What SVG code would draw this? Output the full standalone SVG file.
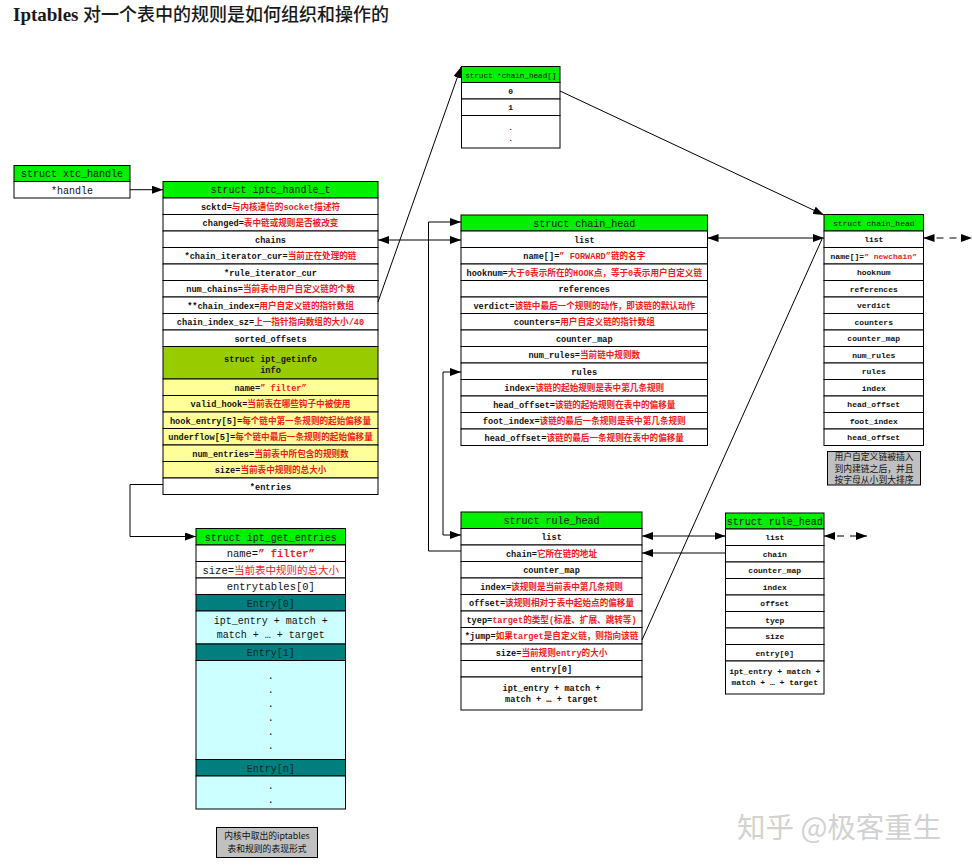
<svg xmlns="http://www.w3.org/2000/svg" width="972" height="868" viewBox="0 0 972 868">
<style>
.b{fill:#fff;stroke:#000;stroke-width:1}
.g{fill:#00f000;stroke:#000;stroke-width:1}
.o{fill:#99cc00;stroke:#000;stroke-width:1}
.y{fill:#ffff99;stroke:#000;stroke-width:1}
.t{fill:#007f7f;stroke:#000;stroke-width:1}
.c{fill:#ccffff;stroke:#000;stroke-width:1}
.gr{fill:#c0c0c0;stroke:#000;stroke-width:1}
text{font-family:"Liberation Mono","Noto Sans CJK SC",monospace;text-anchor:middle;fill:#111}
.r{font-size:8.6px;font-weight:bold}
.s{font-size:8px;font-weight:bold}
.hd{font-size:10px}
.e{font-size:10.5px}
.rd{fill:#ee1c1c;font-weight:bold}
.en{font-size:10px;fill:#082828}
.lb{font-family:"Noto Sans CJK SC",sans-serif;font-size:8.8px}
</style>
<defs>
<marker id="ah" viewBox="0 0 11 8" refX="11" refY="4" markerWidth="11" markerHeight="8" markerUnits="userSpaceOnUse" orient="auto-start-reverse"><path d="M0,0L11,4L0,8z" fill="#000"/></marker>
</defs>
<rect x="0" y="0" width="972" height="868" fill="#fff"/>
<text x="13" y="20.5" style="text-anchor:start;font-family:'Liberation Serif','Noto Sans CJK SC',serif;font-size:19px;font-weight:bold;fill:#1a1a1a">Iptables<tspan x="83" style="font-family:'Noto Sans CJK SC',sans-serif;font-size:18px;font-weight:500">对一个表中的规则是如何组织和操作的</tspan></text>

<g id="xtc_handle">
<rect class="g" x="14" y="165.5" width="116" height="16"/>
<text class="hd" x="72" y="177">struct xtc_handle</text>
<rect class="b" x="14" y="181.5" width="116" height="16.5"/>
<text class="hd" x="72" y="193.5">*handle</text>
</g>

<g id="iptc_handle_t">
<rect class="g" x="163" y="181.5" width="215" height="16.5"/>
<text class="hd" x="270.5" y="193.3">struct iptc_handle_t</text>
<rect class="b" x="163" y="198" width="215" height="16.5"/>
<text class="r" x="270.5" y="209.6">scktd=<tspan class="rd">与内核通信的socket描述符</tspan></text>
<rect class="b" x="163" y="214.5" width="215" height="16.5"/>
<text class="r" x="270.5" y="226.1">changed=<tspan class="rd">表中链或规则是否被改变</tspan></text>
<rect class="b" x="163" y="231" width="215" height="16.5"/>
<text class="r" x="270.5" y="242.6">chains</text>
<rect class="b" x="163" y="247.5" width="215" height="16.5"/>
<text class="r" x="270.5" y="259.1">*chain_iterator_cur=<tspan class="rd">当前正在处理的链</tspan></text>
<rect class="b" x="163" y="264" width="215" height="16.5"/>
<text class="r" x="270.5" y="275.6">*rule_iterator_cur</text>
<rect class="b" x="163" y="280.5" width="215" height="16.5"/>
<text class="r" x="270.5" y="292.1">num_chains=<tspan class="rd">当前表中用户自定义链的个数</tspan></text>
<rect class="b" x="163" y="297" width="215" height="16.5"/>
<text class="r" x="270.5" y="308.6">**chain_index=<tspan class="rd">用户自定义链的指针数组</tspan></text>
<rect class="b" x="163" y="313.5" width="215" height="16.5"/>
<text class="r" x="270.5" y="325.1">chain_index_sz=<tspan class="rd">上一指针指向数组的大小/40</tspan></text>
<rect class="b" x="163" y="330" width="215" height="16.5"/>
<text class="r" x="270.5" y="341.6">sorted_offsets</text>
<rect class="o" x="163" y="346.5" width="215" height="32.5"/>
<text class="r" x="270.5" y="361.5">struct ipt_getinfo</text>
<text class="r" x="270.5" y="373">info</text>
<rect class="y" x="163" y="379" width="215" height="16.5"/>
<text class="r" x="270.5" y="390.6">name=<tspan class="rd">” filter”</tspan></text>
<rect class="y" x="163" y="395.5" width="215" height="16.5"/>
<text class="r" x="270.5" y="407.1">valid_hook=<tspan class="rd">当前表在哪些钩子中被使用</tspan></text>
<rect class="y" x="163" y="412" width="215" height="16.5"/>
<text class="r" x="270.5" y="423.6">hook_entry[5]=<tspan class="rd">每个链中第一条规则的起始偏移量</tspan></text>
<rect class="y" x="163" y="428.5" width="215" height="16.5"/>
<text class="r" x="270.5" y="440.1">underflow[5]=<tspan class="rd">每个链中最后一条规则的起始偏移量</tspan></text>
<rect class="y" x="163" y="445" width="215" height="16.5"/>
<text class="r" x="270.5" y="456.6">num_entries=<tspan class="rd">当前表中所包含的规则数</tspan></text>
<rect class="y" x="163" y="461.5" width="215" height="16.5"/>
<text class="r" x="270.5" y="473.1">size=<tspan class="rd">当前表中规则的总大小</tspan></text>
<rect class="b" x="163" y="478" width="215" height="16.5"/>
<text class="r" x="270.5" y="489.6">*entries</text>
</g>

<g id="ipt_get_entries">
<rect class="g" x="196" y="528.5" width="149.5" height="16.5"/>
<text class="hd" x="270.75" y="540.5">struct ipt_get_entries</text>
<rect class="b" x="196" y="545" width="149.5" height="16.5"/>
<text class="e" x="270.75" y="557.2">name=<tspan class="rd">” filter”</tspan></text>
<rect class="b" x="196" y="561.5" width="149.5" height="16.5"/>
<text class="e" x="270.75" y="573.7">size=<tspan class="rd" style="font-weight:normal">当前表中规则的总大小</tspan></text>
<rect class="b" x="196" y="578" width="149.5" height="16.5"/>
<text class="e" x="270.75" y="590.2">entrytables[0]</text>
<rect class="t" x="196" y="594.5" width="149.5" height="16.5"/>
<text class="en" x="270.75" y="606.5">Entry[0]</text>
<rect class="c" x="196" y="611" width="149.5" height="33"/>
<text class="hd" x="270.75" y="623.5">ipt_entry + match +</text>
<text class="hd" x="270.75" y="637.8">match + … + target</text>
<rect class="t" x="196" y="644" width="149.5" height="16.5"/>
<text class="en" x="270.75" y="656">Entry[1]</text>
<rect class="c" x="196" y="660.5" width="149.5" height="99"/>
<text class="hd" x="270.75" y="679">.</text>
<text class="hd" x="270.75" y="693">.</text>
<text class="hd" x="270.75" y="707">.</text>
<text class="hd" x="270.75" y="721">.</text>
<text class="hd" x="270.75" y="735">.</text>
<text class="hd" x="270.75" y="749">.</text>
<rect class="t" x="196" y="759.5" width="149.5" height="16.5"/>
<text class="en" x="270.75" y="771.5">Entry[n]</text>
<rect class="c" x="196" y="776" width="149.5" height="33"/>
<text class="hd" x="270.75" y="789">.</text>
<text class="hd" x="270.75" y="803">.</text>
</g>

<g id="label_iptables">
<rect class="gr" x="216.5" y="827.5" width="101" height="30"/>
<text class="lb" x="267" y="839">内核中取出的iptables</text>
<text class="lb" x="267" y="851.5">表和规则的表现形式</text>
</g>

<g id="chain_head_array">
<rect class="g" x="461.5" y="66.5" width="98.5" height="16"/>
<text x="510.75" y="77.5" style="font-size:7.6px">struct *chain_head[]</text>
<rect class="b" x="461.5" y="82.5" width="98.5" height="16.5"/>
<text class="s" x="510.75" y="93.8">0</text>
<rect class="b" x="461.5" y="99" width="98.5" height="16.5"/>
<text class="s" x="510.75" y="110.3">1</text>
<rect class="b" x="461.5" y="115.5" width="98.5" height="32.5"/>
<text class="s" x="510.75" y="130">.</text>
<text class="s" x="510.75" y="141">.</text>
</g>

<g id="chain_head">
<rect class="g" x="461" y="215" width="246.5" height="16"/>
<text class="hd" x="584.25" y="227">struct chain_head</text>
<rect class="b" x="461" y="231" width="246.5" height="16.5"/>
<text class="r" x="584.25" y="242.6">list</text>
<rect class="b" x="461" y="247.5" width="246.5" height="16.5"/>
<text class="r" x="584.25" y="259.1">name[]=<tspan class="rd">” FORWARD”链的名字</tspan></text>
<rect class="b" x="461" y="264" width="246.5" height="16.5"/>
<text class="r" x="584.25" y="275.6">hooknum=<tspan class="rd">大于0表示所在的HOOK点，等于0表示用户自定义链</tspan></text>
<rect class="b" x="461" y="280.5" width="246.5" height="16.5"/>
<text class="r" x="584.25" y="292.1">references</text>
<rect class="b" x="461" y="297" width="246.5" height="16.5"/>
<text class="r" x="584.25" y="308.6">verdict=<tspan class="rd">该链中最后一个规则的动作，即该链的默认动作</tspan></text>
<rect class="b" x="461" y="313.5" width="246.5" height="16.5"/>
<text class="r" x="584.25" y="325.1">counters=<tspan class="rd">用户自定义链的指针数组</tspan></text>
<rect class="b" x="461" y="330" width="246.5" height="16.5"/>
<text class="r" x="584.25" y="341.6">counter_map</text>
<rect class="b" x="461" y="346.5" width="246.5" height="16.5"/>
<text class="r" x="584.25" y="358.1">num_rules=<tspan class="rd">当前链中规则数</tspan></text>
<rect class="b" x="461" y="363" width="246.5" height="16.5"/>
<text class="r" x="584.25" y="374.6">rules</text>
<rect class="b" x="461" y="379.5" width="246.5" height="16.5"/>
<text class="r" x="584.25" y="391.1">index=<tspan class="rd">该链的起始规则是表中第几条规则</tspan></text>
<rect class="b" x="461" y="396" width="246.5" height="16.5"/>
<text class="r" x="584.25" y="407.6">head_offset=<tspan class="rd">该链的起始规则在表中的偏移量</tspan></text>
<rect class="b" x="461" y="412.5" width="246.5" height="16.5"/>
<text class="r" x="584.25" y="424.1">foot_index=<tspan class="rd">该链的最后一条规则是表中第几条规则</tspan></text>
<rect class="b" x="461" y="429" width="246.5" height="16.5"/>
<text class="r" x="584.25" y="440.6">head_offset=<tspan class="rd">该链的最后一条规则在表中的偏移量</tspan></text>
</g>

<g id="chain_head_newchain">
<rect class="g" x="824" y="214.5" width="99.5" height="16.5"/>
<text x="873.75" y="225.8" style="font-size:8px">struct chain_head</text>
<rect class="b" x="824" y="231" width="99.5" height="16.5"/>
<text class="s" x="873.75" y="242.4">list</text>
<rect class="b" x="824" y="247.5" width="99.5" height="16.5"/>
<text class="s" x="873.75" y="258.9">name[]=<tspan class="rd">” newchain”</tspan></text>
<rect class="b" x="824" y="264" width="99.5" height="16.5"/>
<text class="s" x="873.75" y="275.4">hooknum</text>
<rect class="b" x="824" y="280.5" width="99.5" height="16.5"/>
<text class="s" x="873.75" y="291.9">references</text>
<rect class="b" x="824" y="297" width="99.5" height="16.5"/>
<text class="s" x="873.75" y="308.4">verdict</text>
<rect class="b" x="824" y="313.5" width="99.5" height="16.5"/>
<text class="s" x="873.75" y="324.9">counters</text>
<rect class="b" x="824" y="330" width="99.5" height="16.5"/>
<text class="s" x="873.75" y="341.4">counter_map</text>
<rect class="b" x="824" y="346.5" width="99.5" height="16.5"/>
<text class="s" x="873.75" y="357.9">num_rules</text>
<rect class="b" x="824" y="363" width="99.5" height="16.5"/>
<text class="s" x="873.75" y="374.4">rules</text>
<rect class="b" x="824" y="379.5" width="99.5" height="16.5"/>
<text class="s" x="873.75" y="390.9">index</text>
<rect class="b" x="824" y="396" width="99.5" height="16.5"/>
<text class="s" x="873.75" y="407.4">head_offset</text>
<rect class="b" x="824" y="412.5" width="99.5" height="16.5"/>
<text class="s" x="873.75" y="423.9">foot_index</text>
<rect class="b" x="824" y="429" width="99.5" height="16.5"/>
<text class="s" x="873.75" y="440.4">head_offset</text>
</g>

<g id="label_newchain">
<rect class="gr" x="827.5" y="451.5" width="93" height="33.5"/>
<text class="lb" x="874" y="460.3">用户自定义链被插入</text>
<text class="lb" x="874" y="471.6">到内建链之后，并且</text>
<text class="lb" x="874" y="482.9">按字母从小到大排序</text>
</g>

<g id="rule_head">
<rect class="g" x="461" y="512" width="181" height="16.5"/>
<text class="hd" x="551.5" y="524">struct rule_head</text>
<rect class="b" x="461" y="528.5" width="181" height="16.5"/>
<text class="r" x="551.5" y="540.1">list</text>
<rect class="b" x="461" y="545" width="181" height="16.5"/>
<text class="r" x="551.5" y="556.6">chain=<tspan class="rd">它所在链的地址</tspan></text>
<rect class="b" x="461" y="561.5" width="181" height="16.5"/>
<text class="r" x="551.5" y="573.1">counter_map</text>
<rect class="b" x="461" y="578" width="181" height="16.5"/>
<text class="r" x="551.5" y="589.6">index=<tspan class="rd">该规则是当前表中第几条规则</tspan></text>
<rect class="b" x="461" y="594.5" width="181" height="16.5"/>
<text class="r" x="551.5" y="606.1">offset=<tspan class="rd">该规则相对于表中起始点的偏移量</tspan></text>
<rect class="b" x="461" y="611" width="181" height="16.5"/>
<text class="r" x="551.5" y="622.6">tyep=<tspan class="rd">target的类型(标准、扩展、跳转等)</tspan></text>
<rect class="b" x="461" y="627.5" width="181" height="16.5"/>
<text class="r" x="551.5" y="639.1">*jump=<tspan class="rd">如果target是自定义链，则指向该链</tspan></text>
<rect class="b" x="461" y="644" width="181" height="16.5"/>
<text class="r" x="551.5" y="655.6">size=<tspan class="rd">当前规则entry的大小</tspan></text>
<rect class="b" x="461" y="660.5" width="181" height="16.5"/>
<text class="r" x="551.5" y="672.1">entry[0]</text>
<rect class="b" x="461" y="677" width="181" height="33"/>
<text class="r" x="551.5" y="690.5">ipt_entry + match +</text>
<text class="r" x="551.5" y="702">match + … + target</text>
</g>

<g id="rule_head_2">
<rect class="g" x="725.5" y="513" width="98.5" height="16"/>
<text class="hd" x="774.75" y="524.8">struct rule_head</text>
<rect class="b" x="725.5" y="529" width="98.5" height="16.5"/>
<text class="s" x="774.75" y="540.4">list</text>
<rect class="b" x="725.5" y="545.5" width="98.5" height="16.5"/>
<text class="s" x="774.75" y="556.9">chain</text>
<rect class="b" x="725.5" y="562" width="98.5" height="16.5"/>
<text class="s" x="774.75" y="573.4">counter_map</text>
<rect class="b" x="725.5" y="578.5" width="98.5" height="16.5"/>
<text class="s" x="774.75" y="589.9">index</text>
<rect class="b" x="725.5" y="595" width="98.5" height="16.5"/>
<text class="s" x="774.75" y="606.4">offset</text>
<rect class="b" x="725.5" y="611.5" width="98.5" height="16.5"/>
<text class="s" x="774.75" y="622.9">tyep</text>
<rect class="b" x="725.5" y="628" width="98.5" height="16.5"/>
<text class="s" x="774.75" y="639.4">size</text>
<rect class="b" x="725.5" y="644.5" width="98.5" height="16.5"/>
<text class="s" x="774.75" y="655.9">entry[0]</text>
<rect class="b" x="725.5" y="661" width="98.5" height="33"/>
<text class="s" x="774.75" y="673.5">ipt_entry + match +</text>
<text class="s" x="774.75" y="685">match + … + target</text>
</g>

<g id="connectors" fill="none" stroke="#000" stroke-width="1">
<path d="M130,189.7H163" marker-end="url(#ah)"/>
<path d="M163,484.5H130V536.5H196" marker-end="url(#ah)"/>
<path d="M378,302L461,67" marker-end="url(#ah)"/>
<path d="M378,240H461" marker-start="url(#ah)" marker-end="url(#ah)"/>
<path d="M461,551H428.5V222H461" marker-end="url(#ah)"/>
<path d="M461,372H443V535H461" marker-start="url(#ah)" marker-end="url(#ah)"/>
<path d="M707.5,238H824" marker-start="url(#ah)" marker-end="url(#ah)"/>
<path d="M560,91L824,215" marker-end="url(#ah)"/>
<path d="M642,640L822,239"/>
<path d="M642,536H725.5" marker-start="url(#ah)" marker-end="url(#ah)"/>
<path d="M725.5,553H642" marker-end="url(#ah)"/>
<path d="M923.5,238H972" stroke-dasharray="7,6" marker-start="url(#ah)" marker-end="url(#ah)"/>
<path d="M824,536H867" stroke-dasharray="7,6" marker-start="url(#ah)" marker-end="url(#ah)"/>
</g>

<g id="watermark">
<text x="737" y="838" style="text-anchor:start;font-family:'Noto Sans CJK SC',sans-serif;font-size:28.5px;fill:#d2d2d2">知乎 @极客重生</text>
</g>
</svg>
